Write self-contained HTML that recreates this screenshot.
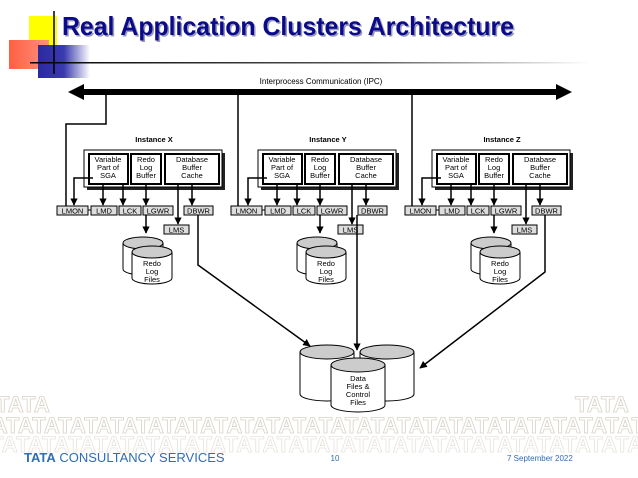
<!DOCTYPE html>
<html><head><meta charset="utf-8"><style>
html,body{margin:0;padding:0;background:#fff;}
svg{display:block;font-family:"Liberation Sans",Arial,sans-serif;}
</style></head><body>
<svg width="638" height="478" viewBox="0 0 638 478" xmlns="http://www.w3.org/2000/svg">
<defs>
<linearGradient id="bl" x1="0" x2="1"><stop offset="0" stop-color="#2a2aa0"/><stop offset="0.5" stop-color="#3a3ab0"/><stop offset="1" stop-color="#3a3ab0" stop-opacity="0"/></linearGradient>
<linearGradient id="hl" x1="0" x2="1"><stop offset="0" stop-color="#000"/><stop offset="0.6" stop-color="#555"/><stop offset="1" stop-color="#fff"/></linearGradient>
<linearGradient id="rd" x1="0" x2="1"><stop offset="0" stop-color="#ff6040"/><stop offset="1" stop-color="#ff9080"/></linearGradient>
<marker id="ah" viewBox="0 0 10 10" refX="9" refY="5" markerWidth="5" markerHeight="5" orient="auto"><path d="M0,0L10,5L0,10z" fill="#000"/></marker>
</defs>
<!-- decoration -->
<rect x="29" y="16" width="28" height="30" fill="#ffff00"/>
<rect x="9" y="40" width="40" height="29" fill="url(#rd)"/>
<rect x="38" y="45" width="52" height="33" fill="url(#bl)"/>
<line x1="54" y1="11" x2="54" y2="74" stroke="#000" stroke-width="1.5"/>
<rect x="30" y="62" width="560" height="1.5" fill="url(#hl)"/>
<text x="62" y="35" font-size="26" font-weight="bold" fill="#9999bb" textLength="452" lengthAdjust="spacingAndGlyphs" transform="translate(1.5,1.5)">Real Application Clusters Architecture</text>
<text x="62" y="35" font-size="26" font-weight="bold" fill="#0a0a8a" textLength="452" lengthAdjust="spacingAndGlyphs">Real Application Clusters Architecture</text>

<!-- IPC -->
<text x="321" y="84" font-size="8" text-anchor="middle">Interprocess Communication (IPC)</text>
<rect x="80" y="89" width="480" height="6" fill="#000"/>
<path d="M68,92L84,84L84,100z M572,92L556,84L556,100z" fill="#000"/>
<g stroke="#000" stroke-width="1.5" fill="none">
<polyline points="106,92 106,124 66,124 66,206"/>
<polyline points="238,92 238,206"/>
<polyline points="412,92 412,206"/>
</g>

<!-- Instance X -->
<g font-size="7.5" text-anchor="middle">
<g id="ix">
<text x="154" y="142" font-weight="bold">Instance X</text>
<rect x="87" y="153" width="138" height="37" fill="#222"/>
<rect x="84" y="150" width="138" height="37" fill="#fff" stroke="#000"/>
<rect x="89" y="154" width="39" height="30" fill="#fff" stroke="#000" stroke-width="2"/>
<rect x="131" y="154" width="30" height="30" fill="#fff" stroke="#000" stroke-width="2"/>
<rect x="165" y="154" width="54" height="30" fill="#fff" stroke="#000" stroke-width="2"/>
<text x="108" y="162">Variable</text><text x="108" y="170">Part of</text><text x="108" y="178">SGA</text>
<text x="146" y="162">Redo</text><text x="146" y="170">Log</text><text x="146" y="178">Buffer</text>
<text x="192" y="162">Database</text><text x="192" y="170">Buffer</text><text x="192" y="178">Cache</text>
<g stroke="#000" stroke-width="1.5" fill="none" marker-end="url(#ah)">
<polyline points="93,178 74,178 74,205"/>
<line x1="103" y1="184" x2="103" y2="205"/>
<line x1="123" y1="184" x2="123" y2="205"/>
<line x1="146" y1="184" x2="146" y2="205"/>
<line x1="178" y1="184" x2="178" y2="224"/>
<line x1="192" y1="184" x2="192" y2="205"/>
<line x1="146" y1="215" x2="146" y2="233"/>
</g>
<g fill="#ddd" stroke="#000" stroke-width="1">
<rect x="57" y="206" width="31" height="9"/><rect x="91" y="206" width="26" height="9"/><rect x="119" y="206" width="22" height="9"/><rect x="143" y="206" width="30" height="9"/><rect x="184" y="206" width="29" height="9"/><rect x="164" y="225" width="25" height="9"/>
</g>
<line x1="88" y1="210" x2="91" y2="210" stroke="#000"/>
<text x="72.5" y="213.5">LMON</text><text x="104" y="213.5">LMD</text><text x="130" y="213.5">LCK</text><text x="158" y="213.5">LGWR</text><text x="198.5" y="213.5">DBWR</text><text x="176.5" y="232.5">LMS</text>
<!-- redo cylinders -->
<path d="M123,243 v26 a20,6 0 0 0 40,0 v-26" fill="#fff" stroke="#000"/>
<ellipse cx="143" cy="243" rx="20" ry="6" fill="#ccc" stroke="#000"/>
<path d="M132,252 v26 a20,6 0 0 0 40,0 v-26" fill="#fff" stroke="#000"/>
<ellipse cx="152" cy="252" rx="20" ry="6" fill="#ccc" stroke="#000"/>
<text x="152" y="266">Redo</text><text x="152" y="274">Log</text><text x="152" y="282">Files</text>
</g>
</g>

<!-- Instance Y -->
<g font-size="7.5" text-anchor="middle" transform="translate(174,0)">
<text x="154" y="142" font-weight="bold">Instance Y</text>
<rect x="87" y="153" width="138" height="37" fill="#222"/>
<rect x="84" y="150" width="138" height="37" fill="#fff" stroke="#000"/>
<rect x="89" y="154" width="39" height="30" fill="#fff" stroke="#000" stroke-width="2"/>
<rect x="131" y="154" width="30" height="30" fill="#fff" stroke="#000" stroke-width="2"/>
<rect x="165" y="154" width="54" height="30" fill="#fff" stroke="#000" stroke-width="2"/>
<text x="108" y="162">Variable</text><text x="108" y="170">Part of</text><text x="108" y="178">SGA</text>
<text x="146" y="162">Redo</text><text x="146" y="170">Log</text><text x="146" y="178">Buffer</text>
<text x="192" y="162">Database</text><text x="192" y="170">Buffer</text><text x="192" y="178">Cache</text>
<g stroke="#000" stroke-width="1.5" fill="none" marker-end="url(#ah)">
<polyline points="93,178 74,178 74,205"/>
<line x1="103" y1="184" x2="103" y2="205"/>
<line x1="123" y1="184" x2="123" y2="205"/>
<line x1="146" y1="184" x2="146" y2="205"/>
<line x1="178" y1="184" x2="178" y2="224"/>
<line x1="192" y1="184" x2="192" y2="205"/>
<line x1="146" y1="215" x2="146" y2="233"/>
</g>
<g fill="#ddd" stroke="#000" stroke-width="1">
<rect x="57" y="206" width="31" height="9"/><rect x="91" y="206" width="26" height="9"/><rect x="119" y="206" width="22" height="9"/><rect x="143" y="206" width="30" height="9"/><rect x="184" y="206" width="29" height="9"/><rect x="164" y="225" width="25" height="9"/>
</g>
<line x1="88" y1="210" x2="91" y2="210" stroke="#000"/>
<text x="72.5" y="213.5">LMON</text><text x="104" y="213.5">LMD</text><text x="130" y="213.5">LCK</text><text x="158" y="213.5">LGWR</text><text x="198.5" y="213.5">DBWR</text><text x="176.5" y="232.5">LMS</text>
<path d="M123,243 v26 a20,6 0 0 0 40,0 v-26" fill="#fff" stroke="#000"/>
<ellipse cx="143" cy="243" rx="20" ry="6" fill="#ccc" stroke="#000"/>
<path d="M132,252 v26 a20,6 0 0 0 40,0 v-26" fill="#fff" stroke="#000"/>
<ellipse cx="152" cy="252" rx="20" ry="6" fill="#ccc" stroke="#000"/>
<text x="152" y="266">Redo</text><text x="152" y="274">Log</text><text x="152" y="282">Files</text>
</g>

<!-- Instance Z -->
<g font-size="7.5" text-anchor="middle" transform="translate(348,0)">
<text x="154" y="142" font-weight="bold">Instance Z</text>
<rect x="87" y="153" width="138" height="37" fill="#222"/>
<rect x="84" y="150" width="138" height="37" fill="#fff" stroke="#000"/>
<rect x="89" y="154" width="39" height="30" fill="#fff" stroke="#000" stroke-width="2"/>
<rect x="131" y="154" width="30" height="30" fill="#fff" stroke="#000" stroke-width="2"/>
<rect x="165" y="154" width="54" height="30" fill="#fff" stroke="#000" stroke-width="2"/>
<text x="108" y="162">Variable</text><text x="108" y="170">Part of</text><text x="108" y="178">SGA</text>
<text x="146" y="162">Redo</text><text x="146" y="170">Log</text><text x="146" y="178">Buffer</text>
<text x="192" y="162">Database</text><text x="192" y="170">Buffer</text><text x="192" y="178">Cache</text>
<g stroke="#000" stroke-width="1.5" fill="none" marker-end="url(#ah)">
<polyline points="93,178 74,178 74,205"/>
<line x1="103" y1="184" x2="103" y2="205"/>
<line x1="123" y1="184" x2="123" y2="205"/>
<line x1="146" y1="184" x2="146" y2="205"/>
<line x1="178" y1="184" x2="178" y2="224"/>
<line x1="192" y1="184" x2="192" y2="205"/>
<line x1="146" y1="215" x2="146" y2="233"/>
</g>
<g fill="#ddd" stroke="#000" stroke-width="1">
<rect x="57" y="206" width="31" height="9"/><rect x="91" y="206" width="26" height="9"/><rect x="119" y="206" width="22" height="9"/><rect x="143" y="206" width="30" height="9"/><rect x="184" y="206" width="29" height="9"/><rect x="164" y="225" width="25" height="9"/>
</g>
<line x1="88" y1="210" x2="91" y2="210" stroke="#000"/>
<text x="72.5" y="213.5">LMON</text><text x="104" y="213.5">LMD</text><text x="130" y="213.5">LCK</text><text x="158" y="213.5">LGWR</text><text x="198.5" y="213.5">DBWR</text><text x="176.5" y="232.5">LMS</text>
<path d="M123,243 v26 a20,6 0 0 0 40,0 v-26" fill="#fff" stroke="#000"/>
<ellipse cx="143" cy="243" rx="20" ry="6" fill="#ccc" stroke="#000"/>
<path d="M132,252 v26 a20,6 0 0 0 40,0 v-26" fill="#fff" stroke="#000"/>
<ellipse cx="152" cy="252" rx="20" ry="6" fill="#ccc" stroke="#000"/>
<text x="152" y="266">Redo</text><text x="152" y="274">Log</text><text x="152" y="282">Files</text>
</g>

<!-- TATA pattern band -->
<g font-size="22" font-weight="bold" fill="none" stroke="#d8d2c8" stroke-width="0.8">
<text x="-4" y="412">TATA</text>
<text x="575" y="412">TATA</text>
<text x="-20" y="433">TATATATATATATATATATATATATATATATATATATATATATATATATATATATA</text>
<text x="-10" y="452" opacity="0.6">TATATATATATATATATATATATATATATATATATATATATATATATATATATATA</text>
</g>

<!-- data cylinders & arrows -->
<g stroke="#000" stroke-width="1.5" fill="none" marker-end="url(#ah)">
<polyline points="198,215 198,265 310,346"/>
<line x1="357" y1="215" x2="357" y2="350"/>
<polyline points="545,215 545,272 420,368"/>
</g>
<path d="M300,352 v42 a27,7 0 0 0 54,0 v-42" fill="#fff" stroke="#000"/>
<ellipse cx="327" cy="352" rx="27" ry="7" fill="#ccc" stroke="#000"/>
<path d="M360,352 v42 a27,7 0 0 0 54,0 v-42" fill="#fff" stroke="#000"/>
<ellipse cx="387" cy="352" rx="27" ry="7" fill="#ccc" stroke="#000"/>
<path d="M331,365 v40 a27,7 0 0 0 54,0 v-40" fill="#fff" stroke="#000"/>
<ellipse cx="358" cy="365" rx="27" ry="7" fill="#ccc" stroke="#000"/>
<g font-size="7.5" text-anchor="middle"><text x="358" y="381">Data</text><text x="358" y="389">Files &amp;</text><text x="358" y="397">Control</text><text x="358" y="405">Files</text></g>

<!-- footer -->
<text x="24" y="462" font-size="13" fill="#2f6db5"><tspan font-weight="bold">TATA</tspan> CONSULTANCY SERVICES</text>
<text x="335" y="461" font-size="8" fill="#2f6db5" text-anchor="middle">10</text>
<text x="507" y="461" font-size="8" fill="#2f6db5">7 September 2022</text>
</svg>
</body></html>
